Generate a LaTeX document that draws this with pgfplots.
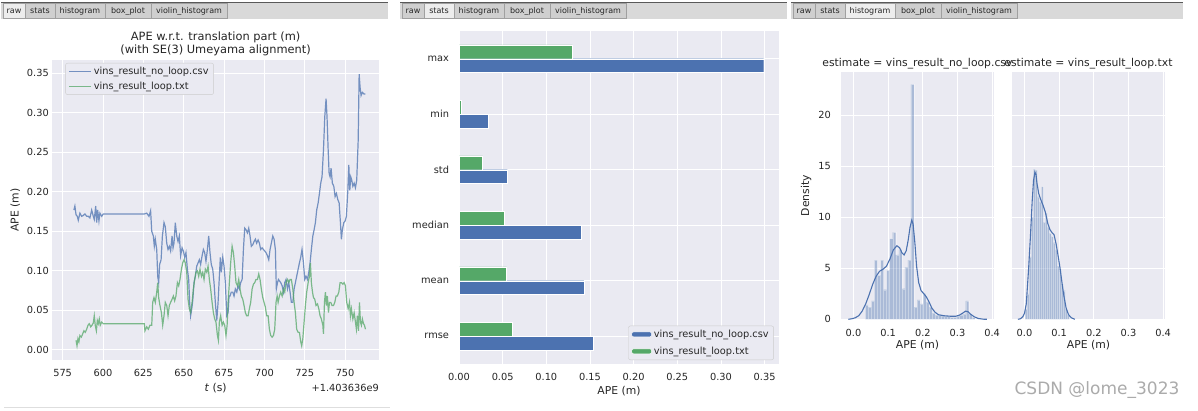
\documentclass[border=0pt]{standalone}
\usepackage{fontspec}
\setmainfont{DejaVu Sans}
\usepackage{pgfplots}
\pgfplotsset{compat=1.18}
\definecolor{sbg}{HTML}{EAEAF2}
\definecolor{sblue}{HTML}{4C72B0}
\definecolor{sgreen}{HTML}{55A868}
\definecolor{stext}{HTML}{262626}
\definecolor{tabbar}{HTML}{D9D9D9}
\definecolor{tabfill}{HTML}{CFCFCF}
\definecolor{tabsel}{HTML}{EDEDED}
\definecolor{tabedge}{HTML}{A0A0A0}
\newcommand{\fs}{\fontsize{9.8}{11.5}\selectfont}
\newcommand{\fl}{\fontsize{10.8}{12.5}\selectfont}
\pgfplotsset{
  sns/.style={
    scale only axis,
    axis background/.style={fill=sbg},
    grid=major,
    major grid style={draw=white, line width=0.8pt},
    axis line style={draw=none},
    major tick length=0pt, minor tick length=0pt,
    tick style={draw=none},
    tick label style={font=\fs, text=stext},
    label style={font=\fl, text=stext},
    legend style={font=\fs, text=stext},
    xticklabel style={yshift=-6pt},
    /pgf/number format/assume math mode=true,
    scaled ticks=false,
  }
}
\newcommand{\tabs}[3]{%
  \fill[tabbar] ({#1-2},392) rectangle (#2,409);
  \draw[black!65, line width=0.8pt] ({#1-2},409) -- (#2,409);
  \foreach \a/\b/\n/\k in {0/22/raw/1,22/52/stats/2,52/102/histogram/3,102/148/box\_plot/4,148/224/violin\_histogram/5}{
    \ifnum\k=#3 \def\tf{tabsel}\else\def\tf{tabfill}\fi
    \filldraw[fill=\tf, draw=tabedge, line width=0.5pt] ({#1+\a},392.5) rectangle ({#1+\b},407.5);
    \node[font=\fontsize{8}{9}\selectfont, text=black!85, inner sep=0pt] at ({#1+0.5*\a+0.5*\b},400) {\n};
  }
}
\begin{document}
\begin{tikzpicture}[x=1pt,y=1pt]
\path[use as bounding box, fill=white] (0,0) rectangle (1198,411);
\tabs{3}{388}{1}
\tabs{402}{787}{2}
\tabs{793}{1183}{3}
\draw[black!13, line width=1pt] (4,3) -- (390,3);

% ---------------- panel 1: raw ----------------
\begin{axis}[sns, name=p1, at={(52.3pt,51pt)}, anchor=south west, width=326.7pt, height=300pt,
  xmin=568.6, xmax=771, ymin=-0.013, ymax=0.367,
  xtick={575,600,625,650,675,700,725,750},
  ytick={0,0.05,0.1,0.15,0.2,0.25,0.3,0.35},
  yticklabel style={/pgf/number format/.cd,fixed,fixed zerofill,precision=2},
  xlabel={\textit{t} (s)}, ylabel={APE (m)},
  xlabel style={at={(axis description cs:0.5,0)}, anchor=base, yshift=-32pt},
  legend style={at={(0.04,0.99)}, anchor=north west, fill=sbg, draw=black!20, rounded corners=2pt, row sep=1.5pt},
  legend cell align=left,
  legend image code/.code={\draw[#1] (0pt,0pt) -- (22pt,0pt);},
]
\addplot[sblue, line width=1.2pt, opacity=0.75] table[x=t,y=e] {
t e
582.0 0.177
582.6 0.182
583.3 0.171
584.1 0.169
584.7 0.164
585.7 0.173
586.8 0.169
587.8 0.170
588.8 0.172
589.9 0.169
590.9 0.169
591.9 0.167
593.0 0.177
594.0 0.169
594.6 0.165
595.5 0.182
596.1 0.161
596.7 0.177
597.5 0.163
598.1 0.173
599.2 0.169
600.2 0.172
625.6 0.172
627.1 0.173
628.5 0.169
629.5 0.176
630.2 0.150
631.2 0.144
631.8 0.131
632.4 0.140
633.3 0.127
633.9 0.093
634.5 0.085
635.1 0.108
636.0 0.114
636.8 0.144
637.8 0.161
638.6 0.156
639.5 0.135
640.3 0.127
641.1 0.131
641.9 0.125
642.8 0.144
643.4 0.129
644.0 0.135
644.8 0.161
645.7 0.144
646.5 0.137
647.3 0.144
648.1 0.119
649.0 0.129
649.8 0.125
650.6 0.117
651.4 0.123
652.3 0.102
653.1 0.089
653.7 0.060
654.3 0.043
655.0 0.052
655.6 0.062
656.4 0.085
657.2 0.093
658.1 0.106
658.9 0.110
659.7 0.114
660.5 0.108
661.4 0.119
662.2 0.127
663.0 0.123
663.8 0.112
664.7 0.127
665.5 0.144
666.3 0.123
667.1 0.108
668.0 0.102
668.8 0.085
669.6 0.060
670.5 0.037
671.3 0.060
672.1 0.093
672.7 0.117
673.3 0.098
674.2 0.117
675.0 0.106
675.8 0.085
676.7 0.043
677.5 0.047
678.1 0.068
678.7 0.068
679.5 0.073
680.4 0.073
681.2 0.068
682.0 0.077
682.9 0.073
683.7 0.081
684.5 0.077
685.3 0.085
686.2 0.089
687.0 0.127
687.8 0.154
688.6 0.152
689.5 0.148
690.3 0.154
691.1 0.144
691.9 0.131
692.8 0.133
693.6 0.137
694.4 0.140
695.2 0.135
696.1 0.139
696.9 0.135
697.7 0.127
698.6 0.129
699.4 0.127
700.2 0.125
701.0 0.123
701.9 0.119
702.7 0.114
703.5 0.127
704.3 0.135
705.2 0.144
706.0 0.140
706.8 0.127
707.4 0.077
708.1 0.085
708.7 0.089
710.1 0.085
711.0 0.081
711.8 0.073
712.6 0.085
713.4 0.089
714.3 0.077
715.1 0.085
715.9 0.073
716.7 0.060
717.6 0.060
718.4 0.077
719.2 0.085
720.0 0.093
720.9 0.102
721.7 0.110
722.5 0.117
723.3 0.127
724.2 0.110
725.0 0.089
725.8 0.093
726.7 0.089
727.5 0.098
728.3 0.110
729.1 0.127
730.0 0.144
730.8 0.152
731.6 0.161
732.4 0.177
733.3 0.186
734.1 0.198
734.9 0.211
735.7 0.219
736.6 0.253
737.4 0.295
738.2 0.318
738.8 0.295
739.5 0.253
740.1 0.223
740.7 0.219
741.3 0.230
742.1 0.211
743.0 0.207
743.8 0.194
744.6 0.198
745.5 0.190
746.3 0.186
747.1 0.161
747.7 0.140
748.3 0.152
749.2 0.161
750.0 0.163
750.8 0.169
751.7 0.202
752.3 0.234
752.9 0.202
753.5 0.219
754.1 0.215
754.8 0.207
755.6 0.211
756.4 0.205
757.2 0.215
758.1 0.265
758.7 0.349
759.3 0.332
759.9 0.322
760.7 0.326
761.6 0.324
762.6 0.324
};
\addlegendentry{vins\_result\_no\_loop.csv}
\addplot[sgreen, line width=1.2pt, opacity=0.75] table[x=t,y=e] {
t e
583.3 0.012
583.9 0.005
584.5 0.014
585.1 0.010
585.7 0.018
586.6 0.016
587.4 0.020
588.2 0.024
589.0 0.022
589.9 0.026
590.7 0.031
591.5 0.033
592.4 0.029
593.2 0.031
594.0 0.034
594.6 0.043
595.2 0.031
595.9 0.024
596.5 0.037
597.1 0.033
597.7 0.039
598.3 0.031
599.2 0.035
600.2 0.033
625.6 0.033
626.0 0.024
627.1 0.029
628.1 0.026
629.1 0.031
630.2 0.031
630.8 0.060
631.6 0.066
632.4 0.060
633.3 0.073
633.9 0.085
634.5 0.066
635.3 0.056
636.2 0.047
637.0 0.031
637.8 0.043
638.6 0.060
639.5 0.056
640.3 0.043
641.1 0.056
641.9 0.060
642.8 0.064
643.6 0.068
644.4 0.062
645.2 0.068
646.1 0.085
646.9 0.081
647.7 0.089
648.6 0.102
649.4 0.110
650.2 0.114
651.0 0.110
651.9 0.098
652.7 0.064
653.5 0.052
654.3 0.047
655.2 0.060
656.0 0.077
656.8 0.089
657.6 0.098
658.5 0.100
659.3 0.093
660.1 0.102
661.0 0.093
661.8 0.098
662.6 0.089
663.4 0.102
664.3 0.098
665.1 0.106
665.9 0.089
666.7 0.077
667.6 0.060
668.4 0.047
669.2 0.039
670.0 0.035
670.9 0.018
671.5 0.012
672.1 0.035
672.9 0.043
673.8 0.031
674.6 0.035
675.4 0.031
676.2 0.018
676.9 0.031
677.5 0.060
678.3 0.085
679.1 0.110
680.0 0.131
680.8 0.123
681.6 0.106
682.4 0.085
683.3 0.081
684.1 0.089
684.9 0.077
685.7 0.068
686.6 0.064
687.4 0.056
688.2 0.047
689.0 0.043
689.9 0.043
690.7 0.052
691.5 0.060
692.4 0.077
693.2 0.083
694.0 0.085
694.8 0.089
695.7 0.089
696.5 0.096
697.3 0.089
698.1 0.077
699.0 0.066
699.8 0.060
700.6 0.054
701.4 0.043
702.3 0.043
703.1 0.026
703.9 0.018
704.8 0.016
705.6 0.018
706.4 0.026
707.2 0.060
707.9 0.068
708.5 0.060
709.3 0.068
710.1 0.073
711.0 0.068
711.8 0.077
712.6 0.073
713.4 0.085
714.3 0.089
715.1 0.085
715.9 0.089
716.7 0.089
717.6 0.077
718.4 0.060
719.2 0.047
720.0 0.026
720.9 0.022
721.7 0.022
722.5 0.010
723.1 0.005
723.8 0.014
724.6 0.035
725.4 0.056
726.2 0.073
727.1 0.085
727.9 0.093
728.5 0.110
729.1 0.085
729.8 0.073
730.4 0.066
731.2 0.064
732.0 0.056
732.9 0.058
733.7 0.052
734.5 0.043
735.3 0.039
736.2 0.031
736.6 0.020
737.2 0.060
737.8 0.073
738.4 0.056
739.0 0.068
739.7 0.047
740.3 0.060
741.1 0.060
741.9 0.056
742.8 0.056
743.6 0.060
744.4 0.068
745.2 0.068
746.1 0.073
746.9 0.085
747.7 0.085
748.6 0.083
749.4 0.085
750.2 0.081
751.0 0.060
751.9 0.052
752.7 0.060
753.3 0.043
753.9 0.052
754.8 0.039
755.6 0.047
756.4 0.035
757.0 0.026
757.6 0.043
758.3 0.024
758.9 0.060
759.5 0.035
760.1 0.031
760.7 0.039
761.4 0.033
762.0 0.031
762.6 0.026
};
\addlegendentry{vins\_result\_loop.txt}
\end{axis}
\node[font=\fontsize{11.4}{13}\selectfont, text=stext, anchor=base] at ([yshift=19pt]p1.north) {APE w.r.t. translation part (m)};
\node[font=\fontsize{11.4}{13}\selectfont, text=stext, anchor=base] at ([yshift=6pt]p1.north) {(with SE(3) Umeyama alignment)};
\node[font=\fs, text=stext, anchor=base east, inner sep=0pt] at ([yshift=-32pt]p1.south east) {+1.403636e9};

% ---------------- panel 2: stats ----------------
\begin{axis}[sns, name=p2, at={(459pt,47pt)}, anchor=south west, width=320pt, height=333pt,
  xmin=0, xmax=0.3665, ymin=-0.5, ymax=5.5,
  xtick={0,0.05,0.1,0.15,0.2,0.25,0.3,0.35},
  xticklabel style={/pgf/number format/.cd,fixed,fixed zerofill,precision=2},
  ytick={0,1,2,3,4,5}, yticklabels={rmse,mean,median,std,min,max},
  yticklabel style={xshift=-6.5pt},
  xlabel={APE (m)},
  xlabel style={at={(axis description cs:0.5,0)}, anchor=base, yshift=-31pt},
  legend style={at={(0.984,0.012)}, anchor=south east, fill=sbg, draw=black!20, rounded corners=2pt, row sep=4pt},
  legend cell align=left,
  legend image code/.code={\fill[#1] (0pt,-2.5pt) rectangle (20pt,2.5pt);},
]
\addplot[xbar, bar width=0.25, bar shift=-0.125, fill=sblue, draw=white, line width=0.4pt] coordinates {(0.1537,0) (0.143,1) (0.1404,2) (0.0553,3) (0.034,4) (0.349,5)};
\addlegendentry{vins\_result\_no\_loop.csv}
\addplot[xbar, bar width=0.25, bar shift=0.125, fill=sgreen, draw=white, line width=0.4pt] coordinates {(0.0614,0) (0.0546,1) (0.0515,2) (0.0271,3) (0.002,4) (0.1297,5)};
\addlegendentry{vins\_result\_loop.txt}
\end{axis}

% ---------------- panel 3: histogram ----------------
\begin{axis}[sns, name=p3a, at={(840.7pt,91.7pt)}, anchor=south west, width=153.5pt, height=247.6pt,
  xmin=-0.037, xmax=0.406, ymin=0, ymax=24.24,
  xtick={0,0.1,0.2,0.3,0.4}, ytick={0,5,10,15,20},
  xticklabel style={/pgf/number format/.cd,fixed,fixed zerofill,precision=1},
  yticklabel style={xshift=-6.4pt},
  xlabel={APE (m)}, ylabel={Density},
  xlabel style={at={(axis description cs:0.5,0)}, anchor=base, yshift=-29.7pt},
]
\addplot[ybar interval, fill=sblue, fill opacity=0.4, draw=white, draw opacity=0.35, line width=0.3pt] table[x=x,y=d] {
x d
0.0340 1.4
0.0428 1.2
0.0516 1.8
0.0603 5.8
0.0691 4.3
0.0779 5.8
0.0867 2.9
0.0955 4.8
0.1042 7.9
0.1130 8.5
0.1218 6.3
0.1306 6.8
0.1394 3.0
0.1481 5.1
0.1569 5.8
0.1657 23.0
0.1745 1.2
0.1833 1.9
0.1920 1.5
0.2008 2.5
0.2096 1.7
0.2184 1.2
0.2272 0.6
0.2359 0.4
0.2447 0.4
0.2535 0.3
0.2623 0.3
0.2711 0.3
0.2798 0.2
0.2886 0.2
0.2974 0.3
0.3062 0.4
0.3150 0.5
0.3237 1.8
0.3325 0.5
0.3413 0.2
0.3500 0.2
};
\addplot[sblue, line width=1.1pt] table[x=x,y=d] {
x d
-0.015 0
-0.005 0.05
0.005 0.15
0.015 0.35
0.025 0.8
0.035 1.5
0.045 2.4
0.055 3.4
0.065 4.2
0.075 4.7
0.085 4.9
0.095 5.2
0.105 5.9
0.115 6.8
0.125 7.2
0.133 7.0
0.140 6.5
0.146 6.3
0.152 6.7
0.158 7.8
0.163 9.0
0.168 9.7
0.172 9.3
0.177 7.5
0.182 5.2
0.188 3.6
0.195 2.8
0.203 2.5
0.210 2.2
0.218 1.7
0.226 1.1
0.235 0.7
0.245 0.45
0.260 0.35
0.280 0.3
0.295 0.3
0.305 0.4
0.315 0.6
0.323 0.8
0.330 0.75
0.338 0.5
0.348 0.25
0.360 0.08
0.375 0.01
0.385 0
};
\end{axis}

\begin{axis}[sns, name=p3b, at={(1011.7pt,91.7pt)}, anchor=south west, width=153.5pt, height=247.6pt,
  xmin=-0.037, xmax=0.406, ymin=0, ymax=24.24,
  xtick={0,0.1,0.2,0.3,0.4}, ytick={0,5,10,15,20}, yticklabels={},
  xticklabel style={/pgf/number format/.cd,fixed,fixed zerofill,precision=1},
  xlabel={APE (m)},
  xlabel style={at={(axis description cs:0.5,0)}, anchor=base, yshift=-29.7pt},
]
\addplot[ybar interval, fill=sblue, fill opacity=0.4, draw=white, draw opacity=0.35, line width=0.3pt] table[x=x,y=d] {
x d
0.0020 1.0
0.0078 2.5
0.0136 6.1
0.0194 10.0
0.0252 14.7
0.0310 14.6
0.0368 12.0
0.0426 11.5
0.0484 13.0
0.0542 9.5
0.0600 10.4
0.0658 9.0
0.0716 8.4
0.0774 8.1
0.0832 7.5
0.0890 6.8
0.0948 5.2
0.1006 4.9
0.1064 3.5
0.1122 2.8
0.1180 1.0
0.1238 0.4
0.1296 0.4
};
\addplot[sblue, line width=1.1pt] table[x=x,y=d] {
x d
-0.019 0
-0.012 0.05
-0.005 0.25
0.000 0.6
0.005 1.5
0.0115 4.8
0.017 8.1
0.022 11.5
0.026 13.6
0.030 14.4
0.033 14.2
0.036 13.3
0.041 12.3
0.047 11.7
0.053 11.2
0.060 10.5
0.067 9.4
0.073 8.8
0.079 8.5
0.085 8.3
0.091 7.4
0.097 6.2
0.103 4.9
0.108 3.6
0.113 2.4
0.120 1.1
0.127 0.45
0.135 0.15
0.145 0
};
\end{axis}
\node[font=\fontsize{10.8}{12.5}\selectfont, text=stext, anchor=base] at ([yshift=5pt]p3a.north) {estimate = vins\_result\_no\_loop.csv};
\node[font=\fontsize{10.8}{12.5}\selectfont, text=stext, anchor=base] at ([yshift=5pt]p3b.north) {estimate = vins\_result\_loop.txt};

\node[font=\fontsize{17}{20}\selectfont, text=black!33] at (1097,21) {CSDN @lome\_3023};
\end{tikzpicture}
\end{document}
